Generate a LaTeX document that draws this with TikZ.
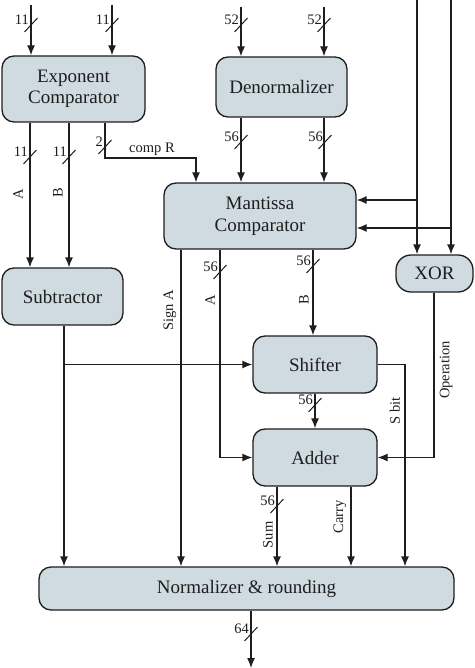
\documentclass[tikz,border=0pt]{standalone}
\usepackage{fontspec}
\setmainfont{Liberation Serif}
\usetikzlibrary{arrows.meta}
\definecolor{boxfill}{HTML}{CFDAE1}
\definecolor{ink}{HTML}{1E1E1E}
\tikzset{
  blk/.style={draw=ink, fill=boxfill, line width=1.3pt, rounded corners=12pt, inner sep=0pt, align=center, text=ink, font=\fontsize{19}{21.5}\selectfont},
  wire/.style={draw=ink, line width=1.3pt, -{Latex[length=10pt,width=8pt]}},
  lbl/.style={text=ink, inner sep=0pt, font=\fontsize{14.5}{16}\selectfont},
  bus/.pic={\draw[ink, line width=1pt] (-6.5pt,-7pt) -- (6.5pt,7pt);
            \node[lbl, anchor=east] at (-2pt,5pt) {#1};}
}
\begin{document}
\begin{tikzpicture}[x=1pt,y=-1pt]
\useasboundingbox (0,0) rectangle (474,668);
% blocks
\node[blk, minimum width=143pt, minimum height=66pt] (exp) at (73.5,89) {Exponent\\Comparator};
\node[blk, minimum width=131pt, minimum height=60pt] (den) at (281.5,87) {Denormalizer};
\node[blk, minimum width=192pt, minimum height=66pt] (mant) at (260,216) {Mantissa\\Comparator};
\node[blk, minimum width=121pt, minimum height=57pt] (sub) at (62.5,296.5) {Subtractor};
\node[blk, minimum width=77pt, minimum height=37pt, rounded corners=15pt] (xor) at (434.5,273.5) {XOR};
\node[blk, minimum width=124pt, minimum height=57pt] (shf) at (315,364.5) {Shifter};
\node[blk, minimum width=124pt, minimum height=57pt] (add) at (315,457.5) {Adder};
\node[blk, minimum width=415pt, minimum height=43pt] (norm) at (246.5,588.5) {Normalizer \& rounding};
% coordinates
\coordinate (in1) at (31,5);
\coordinate (in2) at (112,5);
\coordinate (in3) at (241,7);
\coordinate (in4) at (324,7);
\coordinate (in5) at (417,0);
\coordinate (in6) at (451,0);
\coordinate (xA) at (30,0);
\coordinate (xB) at (69,0);
\coordinate (xR) at (105,0);
\coordinate (xRb) at (196,0);
\coordinate (yR) at (0,158);
\coordinate (yM1) at (0,200);
\coordinate (yM2) at (0,228);
\coordinate (xSg) at (181,0);
\coordinate (xMA) at (220,0);
\coordinate (xMB) at (313,0);
\coordinate (xSub) at (64,0);
\coordinate (xS) at (405,0);
\coordinate (xOp) at (434,0);
\coordinate (xSum) at (277,0);
\coordinate (xCy) at (351,0);
\coordinate (xOut) at (251,0);
\coordinate (out) at (251,668);
% inputs
\draw[wire] (in1) -- (exp.north -| in1);
\draw[wire] (in2) -- (exp.north -| in2);
\draw[wire] (in3) -- (den.north -| in3);
\draw[wire] (in4) -- (den.north -| in4);
\draw[wire] (in5) -- (xor.north -| in5);
\draw[wire] (in6) -- (xor.north -| in6);
\draw[wire] (in5 |- yM1) -- (mant.east |- yM1);
\draw[wire] (in6 |- yM2) -- (mant.east |- yM2);
\pic at (31,25) {bus=11};
\pic at (112,25) {bus=11};
\pic at (241,25) {bus=52};
\pic at (324,25) {bus=52};
% exponent comparator outputs
\draw[wire] (exp.south -| xA) -- (sub.north -| xA);
\draw[wire] (exp.south -| xB) -- (sub.north -| xB);
\draw[wire] (exp.south -| xR) -- (xR |- yR) -- (xRb |- yR) -- (mant.north -| xRb);
\pic at (30,157) {bus=11};
\pic at (69,157) {bus=11};
\pic at (105,147) {bus=2};
\node[lbl] (lcomp) at (152,149) {comp R};
\node[lbl, rotate=90] (lA1) at (18,194) {A};
\node[lbl, rotate=90] (lB1) at (58,193) {B};
% denormalizer outputs
\draw[wire] (den.south -| in3) -- (mant.north -| in3);
\draw[wire] (den.south -| in4) -- (mant.north -| in4);
\pic at (241,142) {bus=56};
\pic at (325,142) {bus=56};
% mantissa comparator outputs
\draw[wire] (mant.south -| xSg) -- (norm.north -| xSg);
\draw[wire] (mant.south -| xMA) -- (xMA |- add.west) -- (add.west);
\draw[wire] (mant.south -| xMB) -- (shf.north -| xMB);
\pic at (220,272) {bus=56};
\pic at (313,266) {bus=56};
\node[lbl, rotate=90] (lSg) at (170,310) {Sign A};
\node[lbl, rotate=90] (lA2) at (210,300) {A};
\node[lbl, rotate=90] (lB2) at (304,300) {B};
% subtractor
\draw[wire] (sub.south -| xSub) -- (norm.north -| xSub);
\draw[wire] (xSub |- shf.west) -- (shf.west);
% shifter
\draw[wire] (shf.south) -- (add.north);
\pic at (315,405) {bus=56};
\draw[wire] (shf.east) -- (xS |- shf.east) -- (norm.north -| xS);
\node[lbl, rotate=90] (lSb) at (395,411) {S bit};
% xor
\draw[wire] (xor.south -| xOp) -- (xOp |- add.east) -- (add.east);
\node[lbl, rotate=90] (lOp) at (446,370) {Operation};
% adder
\draw[wire] (add.south -| xSum) -- (norm.north -| xSum);
\draw[wire] (add.south -| xCy) -- (norm.north -| xCy);
\pic at (277,506) {bus=56};
\node[lbl, rotate=90] (lSum) at (268,535) {Sum};
\node[lbl, rotate=90] (lCy) at (340,517) {Carry};
% output
\draw[wire] (norm.south -| xOut) -- (out);
\pic at (251,634) {bus=64};
\end{tikzpicture}
\end{document}
